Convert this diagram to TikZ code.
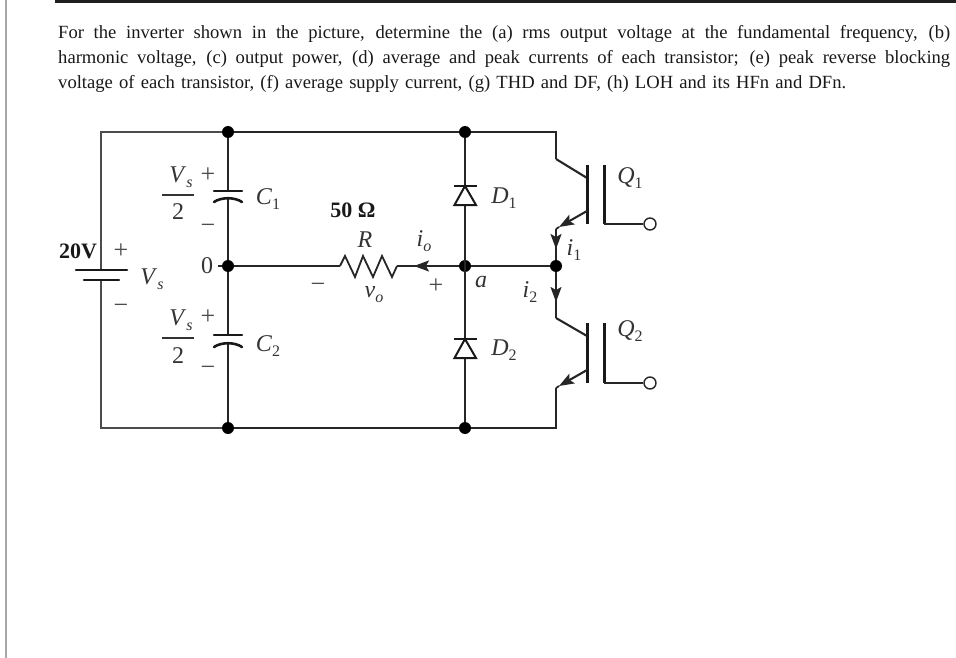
\documentclass[tikz,border=0pt]{standalone}
\usepackage{fontspec}
\setmainfont{Liberation Serif}
\usetikzlibrary{arrows.meta}
\newcommand{\sbl}[2]{\textit{#1}\raisebox{-5pt}{\fontsize{16}{16}\selectfont\textit{#2}}}
\newcommand{\sbn}[2]{\textit{#1}\raisebox{-5pt}{\fontsize{16}{16}\selectfont #2}}
\newcommand{\fitline}[1]{\leavevmode\hbox to 892pt{\spaceskip=.25em plus 1fil\xspaceskip=\spaceskip #1}}
\tikzset{
  wire/.style={line width=1.8pt,draw=black!85},
  oldwire/.style={line width=1.9pt,draw=black!70},
  plate/.style={line width=2.6pt,draw=black!90,line cap=round},
  bar/.style={line width=3pt,draw=black!90},
  dotnode/.style={circle,fill=black,inner sep=0pt,minimum size=12pt},
  opennode/.style={circle,draw=black!85,fill=white,line width=1.4pt,inner sep=0pt,minimum size=12pt},
  lab/.style={inner sep=0pt,text=black!80,font=\fontsize{24}{24}\selectfont},
  sign/.style={inner sep=0pt,text=black!70,font=\fontsize{26}{26}\selectfont},
  boldlab/.style={inner sep=0pt,text=black!90,font=\fontsize{22}{22}\selectfont\bfseries},
  tipped/.style={wire,-{Stealth[length=15pt,width=11pt,inset=3pt]}},
  para/.style={inner sep=0pt,anchor=north west,text width=892pt,align=left,text=black!90,font=\fontsize{18.6}{25}\selectfont},
  diodeshape/.style={line width=2pt,draw=black!90,fill=white,line join=miter}
}
\begin{document}
\begin{tikzpicture}[x=1pt,y=-1pt]
\useasboundingbox (0,0) rectangle (956,658);
% page furniture
\fill[black!35] (4.5,0) rectangle (7,658);
\fill[black!88] (55,0) rectangle (956,3.5);
\node[para] (problem) at (58,25) {\fitline{For the inverter shown in the picture, determine the (a) rms output voltage at the fundamental frequency, (b)}\\
\fitline{harmonic voltage, (c) output power, (d) average and peak currents of each transistor; (e) peak reverse blocking}\\
voltage of each transistor, (f) average supply current, (g) THD and DF, (h) LOH and its HFn and DFn.};

% junctions
\node[dotnode] (topC) at (228,132) {};
\node[dotnode] (midC) at (228,266) {};
\node[dotnode] (botC) at (228,428) {};
\node[dotnode] (topD) at (465,132) {};
\node[dotnode] (nodeA) at (465,266) {};
\node[dotnode] (botD) at (465,428) {};
\node[dotnode] (midQ) at (556,266) {};
\node[opennode] (g1) at (650,224) {};
\node[opennode] (g2) at (650,383) {};

% free corner points
\coordinate (tl) at (101,132);
\coordinate (bl) at (101,428);
\coordinate (battT) at (101,270);
\coordinate (battB) at (101,280);
\coordinate (tr) at (556,132);
\coordinate (br) at (556,428);
\coordinate (c1a) at (556,159);
\coordinate (b1) at (587,178);
\coordinate (e1) at (587,211);
\coordinate (e1t) at (559,227);
\coordinate (e1c) at (556,229);
\coordinate (i1t) at (556,249);
\coordinate (i2t) at (556,302);
\coordinate (c2a) at (556,318);
\coordinate (b2) at (587,336);
\coordinate (e2) at (587,370);
\coordinate (e2t) at (559,386);
\coordinate (e2c) at (556,388);
\coordinate (g1b) at (604,224);
\coordinate (g2b) at (604,383);
\coordinate (rL) at (340,266);
\coordinate (rR) at (397,266);
\coordinate (ioT) at (414,266);

% outer wiring
\draw[oldwire] (battT) -- (tl) -- (topC);
\draw[oldwire] (battB) -- (bl) -- (botC);
\draw[wire] (topC) -- (topD) -- (tr) -- (c1a);
\draw[wire] (botC) -- (botD) -- (br) -- (e2c);
% capacitor branch
\draw[wire] (topC) -- (228,191);
\draw[wire] (228,199) -- (midC);
\draw[wire] (midC) -- (228,335);
\draw[wire] (228,344) -- (botC);
\draw[wire] (218,266) -- (midC);
\draw[plate] (214,191) -- (242,191);
\draw[plate] (214,202) .. controls (221,197) and (235,197) .. (242,202);
\draw[plate] (214,335) -- (242,335);
\draw[plate] (214,347) .. controls (221,342) and (235,342) .. (242,347);
% battery
\draw[plate] (76,270) -- (127,270);
\draw[plate] (84,280) -- (119,280);
% output branch
\draw[wire] (midC) -- (rL);
\draw[wire,line join=miter] (rL) -- (345,256) -- (355,277) -- (363,256) -- (373,277) -- (382,256) -- (392,277) -- (rR);
\draw[wire] (rR) -- (nodeA);
\draw[tipped] (431,266) -- (ioT);
\draw[wire] (nodeA) -- (midQ);
% diode branch
\draw[wire] (topD) -- (botD);
\draw[diodeshape] (465,186) -- (476,205) -- (454.5,205) -- cycle;
\draw[plate,line cap=butt,line width=2.2pt] (454,186) -- (477,186);
\draw[diodeshape] (465,339) -- (476,358) -- (454.5,358) -- cycle;
\draw[plate,line cap=butt,line width=2.2pt] (454,339) -- (477,339);
% transistors
\draw[wire,line width=2.1pt] (c1a) -- (b1);
\draw[bar] (587,165) -- (587,224);
\draw[bar] (604,165) -- (g1b);
\draw[wire] (g1b) -- (g1);
\draw[tipped,line width=2.1pt] (e1) -- (e1t);
\draw[wire] (e1t) -- (e1c);
\draw[wire] (e1c) -- (midQ);
\draw[tipped] (556,232) -- (i1t);
\draw[wire] (midQ) -- (c2a);
\draw[tipped] (556,284) -- (i2t);
\draw[wire,line width=2.1pt] (c2a) -- (b2);
\draw[bar] (587,323) -- (587,383);
\draw[bar] (604,323) -- (g2b);
\draw[wire] (g2b) -- (g2);
\draw[tipped,line width=2.1pt] (e2) -- (e2t);
\draw[wire] (e2t) -- (e2c);
% fraction bars
\draw[line width=1.5pt,draw=black!80] (162,195) -- (194,195);
\draw[line width=1.5pt,draw=black!80] (162,338) -- (194,338);

% labels
\node[lab] (vs1) at (181,177) {\sbl{V}{s}};
\node[lab] (two1) at (178,212) {2};
\node[sign] (p1) at (208,175) {+};
\node[sign] (m1) at (208,229) {−};
\node[lab] (c1l) at (268,199) {\sbn{C}{1}};
\node[lab] (zero) at (207,266) {0};
\node[boldlab] (vlab) at (78,251) {20V};
\node[sign] (pb) at (121,251) {+};
\node[lab] (vsb) at (152,279) {\sbl{V}{s}};
\node[sign] (mb) at (121,309) {−};
\node[lab] (vs2) at (181,320) {\sbl{V}{s}};
\node[lab] (two2) at (178,356) {2};
\node[sign] (p2) at (208,317) {+};
\node[sign] (m2) at (208,371) {−};
\node[lab] (c2l) at (268,346) {\sbn{C}{2}};
\node[boldlab] (ohm) at (353,210) {50 Ω};
\node[lab] (rl) at (365,240) {\textit{R}};
\node[lab] (iol) at (424,241) {\sbl{i}{o}};
\node[sign] (mo) at (318,288) {−};
\node[sign] (po) at (436,286) {+};
\node[lab] (vol) at (374,295) {\sbl{v}{o}};
\node[lab] (al) at (481,282) {\textit{a}};
\node[lab] (i1l) at (574,250) {\sbn{i}{1}};
\node[lab] (i2l) at (530,292) {\sbn{i}{2}};
\node[lab] (d1l) at (504,198) {\sbn{D}{1}};
\node[lab] (d2l) at (504,350) {\sbn{D}{2}};
\node[lab] (q1l) at (630,178) {\sbn{Q}{1}};
\node[lab] (q2l) at (630,331) {\sbn{Q}{2}};
\end{tikzpicture}
\end{document}
